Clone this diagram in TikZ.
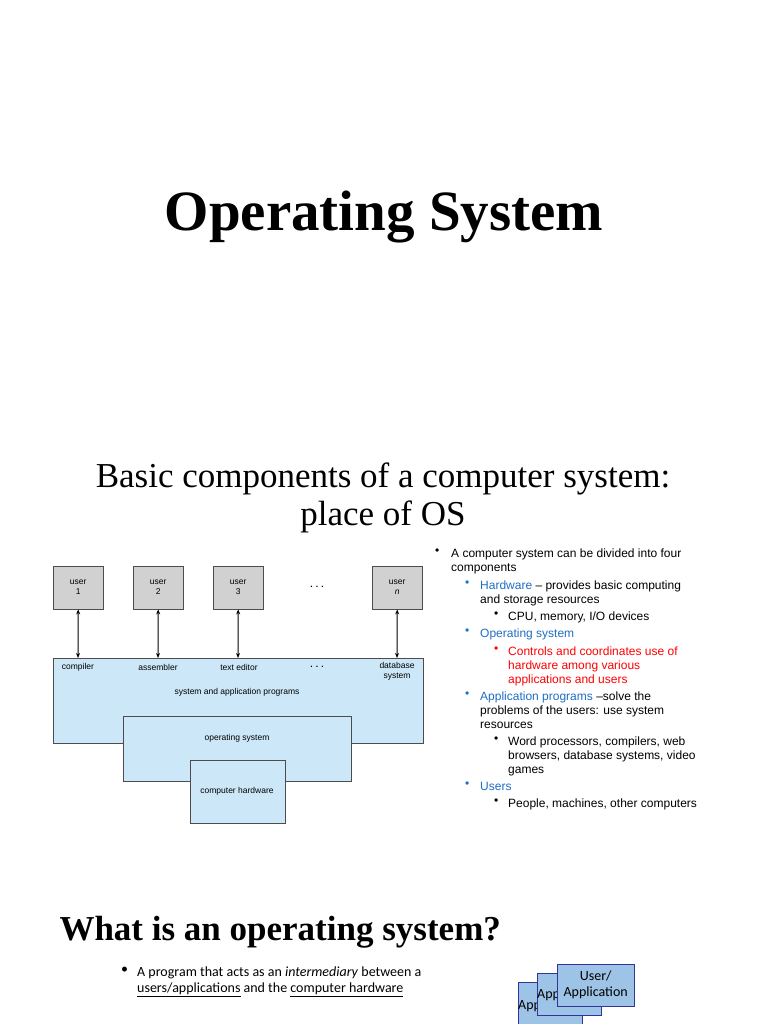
\documentclass[tikz,border=0pt]{standalone}
\usepackage{fontspec}
\setmainfont{Liberation Serif}
\newfontfamily\arial{Liberation Sans}
\newfontfamily\carl{Carlito}
\begin{document}
\begin{tikzpicture}[x=1pt,y=-1pt,
  ubox/.style={draw=black!70,fill=black!18,minimum width=50pt,minimum height=43pt,inner sep=0pt,font=\arial\fontsize{8.5}{10}\selectfont,align=center,anchor=north west},
  lab/.style={font=\arial\fontsize{8.5}{10}\selectfont,align=center},
  bt/.style={font=\arial\fontsize{12}{14}\selectfont,anchor=north west,align=left,inner sep=0pt},
  arr/.style={<->,>={Stealth[length=5pt,width=4pt]},line width=1pt},
  sbox/.style={draw=blue!50!black!80,fill=sb,anchor=north west,minimum width=77pt,minimum height=42pt,inner sep=0pt,font=\carl\fontsize{14}{16}\selectfont,align=center}]
\usetikzlibrary{arrows.meta}
\definecolor{sb}{HTML}{9DC3E6}
\useasboundingbox (0,0) rectangle (768,1024);
\fill[white] (0,0) rectangle (768,1024);
\node[font=\bfseries\fontsize{57}{64}\selectfont] (t1) at (384,217) {Operating System};
\node[font=\fontsize{35}{38}\selectfont,align=center] (t2) at (383,498) {Basic components of a computer system:\\place of OS};
% diagram
\definecolor{lb}{HTML}{CCE8F8}
\draw[draw=black!70,fill=lb] (53,658) rectangle (423,743);
\draw[draw=black!70,fill=lb] (123,716) rectangle (351,781);
\draw[draw=black!70,fill=lb] (190,760) rectangle (285,823);
\node[ubox] (u1) at (53,566) {user\\1};
\node[ubox] (u2) at (133,566) {user\\2};
\node[ubox] (u3) at (213,566) {user\\3};
\node[ubox] (un) at (372,566) {user\\\textit{n}};
\node[lab] at (317,587) {\textbf{. . .}};
\coordinate (c1) at (78,658); \coordinate (c2) at (158,658);
\coordinate (c3) at (238,658); \coordinate (cn) at (397,658);
\draw[arr] (u1.south) -- (c1);
\draw[arr] (u2.south) -- (c2);
\draw[arr] (u3.south) -- (c3);
\draw[arr] (un.south) -- (cn);
\node[lab] (l1) at (78,667) {compiler};
\node[lab] (l2) at (158,667) {assembler};
\node[lab] (l3) at (239,667) {text editor};
\node[lab] (l4) at (317,667) {\textbf{. . .}};
\node[lab] (l5) at (397,671) {database\\system};
\node[lab] (sap) at (237,692) {system and application programs};
\node[lab] (os) at (237,738) {operating system};
\node[lab] (hw) at (237,791) {computer hardware};
% bullets
\definecolor{bb}{HTML}{1F6FC5}
\node[bt] at (435,549) {\textbullet};
\node[bt] at (451,549) {A computer system can be divided into four\\components};
\node[bt] at (465,581) {\color{bb}\textbullet};
\node[bt] at (480,581) {\textcolor{bb}{Hardware} – provides basic computing\\and storage resources};
\node[bt] at (494,612) {\textbullet};
\node[bt] at (508,612) {CPU, memory, I/O devices};
\node[bt] at (465,629) {\color{bb}\textbullet};
\node[bt] at (480,629) {\color{bb}Operating system};
\node[bt] at (494,647) {\color{red}\textbullet};
\node[bt] at (508,647) {\color{red}Controls and coordinates use of\\\color{red}hardware among various\\\color{red}applications and users};
\node[bt] at (465,692) {\color{bb}\textbullet};
\node[bt] at (480,692) {\textcolor{bb}{Application programs} –solve the\\problems of the users: use system\\resources};
\node[bt] at (494,737) {\textbullet};
\node[bt] at (508,737) {Word processors, compilers, web\\browsers, database systems, video\\games};
\node[bt] at (465,782) {\color{bb}\textbullet};
\node[bt] at (480,782) {\color{bb}Users};
\node[bt] at (494,799) {\textbullet};
\node[bt] at (508,799) {People, machines, other computers};
% bottom
\node[font=\bfseries\fontsize{35}{38}\selectfont,anchor=west] (t3) at (56,932) {What is an operating system?};
\node[font=\carl\fontsize{14}{16}\selectfont,anchor=north west,inner sep=0pt] at (121,967) {\textbullet};
\node[font=\carl\fontsize{14}{16}\selectfont,anchor=north west,inner sep=0pt,align=left] at (137,967) {A program that acts as an \textit{intermediary} between a\\\underline{users/applications} and the \underline{computer hardware}};
\node[sbox,minimum width=60pt] (s1) at (518,982) {\raisebox{-14pt}{Application}};
\node[sbox,minimum width=60pt] (s2) at (537,973) {\raisebox{-10pt}{Application}};
\node[sbox] (s3) at (557,964) {User/\\Application};
\end{tikzpicture}
\end{document}
